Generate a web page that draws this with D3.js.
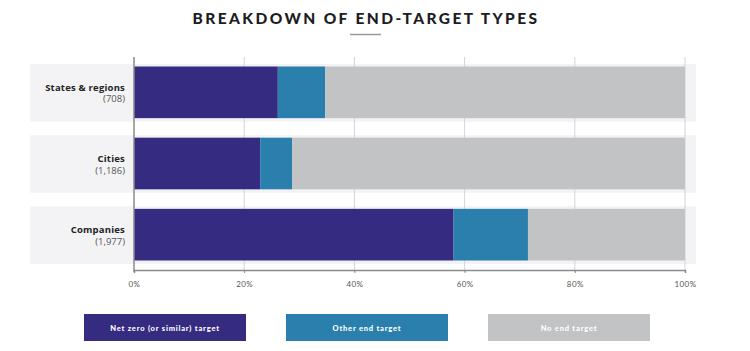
<!DOCTYPE html>
<html>
<head>
<meta charset="utf-8">
<script src="https://cdn.jsdelivr.net/npm/d3@7"></script>
<style>
  body { margin: 0; background: #fff; }
  svg { display: block; font-family: Lato, "Noto Sans", sans-serif; }
</style>
</head>
<body>
<svg id="chart" width="750" height="351"></svg>
<script>
// categories and their counts
var categories = ["States & regions", "Cities", "Companies"];
var counts = ["(708)", "(1,186)", "(1,977)"];

// series values, percent of each category
var netZero = [26.1, 22.9, 58.0];
var otherEnd = [8.6, 5.8, 13.5];
var noEnd = [65.3, 71.3, 28.5];

var seriesNames = ["Net zero (or similar) target", "Other end target", "No end target"];
var seriesColors = ["#352b80", "#2a7fac", "#c1c3c5"];
var tickValues = [0, 20, 40, 60, 80, 100];

var svg = d3.select("#chart");

// title
svg.append("text")
  .attr("x", 366)
  .attr("y", 24)
  .attr("text-anchor", "middle")
  .attr("font-size", 15.5)
  .attr("font-weight", 900)
  .attr("letter-spacing", 2.4)
  .attr("fill", "#1c1c22")
  .text("BREAKDOWN OF END-TARGET TYPES");

svg.append("line")
  .attr("x1", 350).attr("x2", 381)
  .attr("y1", 34.5).attr("y2", 34.5)
  .attr("stroke", "#9a9a9a")
  .attr("stroke-width", 1.5);

var x = d3.scaleLinear().domain([0, 100]).range([134, 685]);

var y = d3.scaleBand()
  .domain(categories)
  .range([64, 264])
  .paddingInner(0.19)
  .paddingOuter(0);

// build stacked table from the arrays
var table = categories.map(function(c, i) {
  return { cat: c, net: netZero[i], other: otherEnd[i], none: noEnd[i] };
});
var stack = d3.stack().keys(["net", "other", "none"])(table);

// row backgrounds
svg.append("g")
  .selectAll("rect")
  .data(categories)
  .enter()
  .append("rect")
  .attr("x", 30)
  .attr("y", function(d) { return y(d); })
  .attr("width", 666)
  .attr("height", y.bandwidth())
  .attr("fill", "#f3f3f6");

// gridlines
svg.append("g")
  .selectAll("line")
  .data(tickValues.slice(1))
  .enter()
  .append("line")
  .attr("x1", function(d) { return x(d); })
  .attr("x2", function(d) { return x(d); })
  .attr("y1", 57)
  .attr("y2", 272)
  .attr("stroke", "#d4d4d8")
  .attr("stroke-width", 1);

// bars
var barPad = 2.5;
svg.append("g")
  .selectAll("g")
  .data(stack)
  .enter()
  .append("g")
  .attr("fill", function(d, i) { return seriesColors[i]; })
  .selectAll("rect")
  .data(function(d) { return d; })
  .enter()
  .append("rect")
  .attr("x", function(d) { return x(d[0]); })
  .attr("y", function(d) { return y(d.data.cat) + barPad; })
  .attr("width", function(d) { return x(d[1]) - x(d[0]); })
  .attr("height", y.bandwidth() - barPad * 2 - 1);

// axis
var xAxis = d3.axisBottom(x)
  .tickValues(tickValues)
  .tickFormat(function(d) { return d + "%"; })
  .tickSize(3)
  .tickPadding(8);

var axisG = svg.append("g")
  .attr("transform", "translate(0,270)")
  .call(xAxis);
axisG.select(".domain").attr("stroke", "#8a8a8a").attr("stroke-width", 1.5);
axisG.selectAll(".tick line").attr("stroke", "#8a8a8a");
axisG.selectAll(".tick text")
  .attr("fill", "#555")
  .attr("font-size", 8)
  .attr("letter-spacing", 0.4)
  .attr("font-family", "Lato, sans-serif");

// vertical baseline
svg.append("line")
  .attr("x1", x(0)).attr("x2", x(0))
  .attr("y1", 57).attr("y2", 272)
  .attr("stroke", "#8a8a8a")
  .attr("stroke-width", 1.5);

// category labels
var labels = svg.append("g")
  .selectAll("text")
  .data(categories)
  .enter()
  .append("text")
  .attr("text-anchor", "end")
  .attr("x", 125)
  .attr("y", function(d) { return y(d) + y.bandwidth() / 2 - 2; });

labels.append("tspan")
  .attr("font-size", 9.5)
  .attr("font-weight", 700)
  .attr("font-family", "'Open Sans', sans-serif")
  .attr("letter-spacing", 0.2)
  .attr("fill", "#222")
  .text(function(d) { return d; });

labels.append("tspan")
  .attr("x", 125)
  .attr("dy", 11.5)
  .attr("font-size", 9.5)
  .attr("font-family", "'Open Sans', sans-serif")
  .attr("fill", "#555")
  .text(function(d, i) { return counts[i]; });

// legend
var legend = svg.append("g")
  .selectAll("g")
  .data(seriesNames)
  .enter()
  .append("g")
  .attr("transform", function(d, i) { return "translate(" + (84 + i * 202) + ",314)"; });

legend.append("rect")
  .attr("width", 162)
  .attr("height", 27)
  .attr("fill", function(d, i) { return seriesColors[i]; });

legend.append("text")
  .attr("x", 81)
  .attr("y", 17)
  .attr("text-anchor", "middle")
  .attr("font-size", 7.5)
  .attr("font-weight", 900)
  .attr("letter-spacing", 0.8)
  .attr("fill", "#fff")
  .text(function(d) { return d; });
</script>
</body>
</html>
